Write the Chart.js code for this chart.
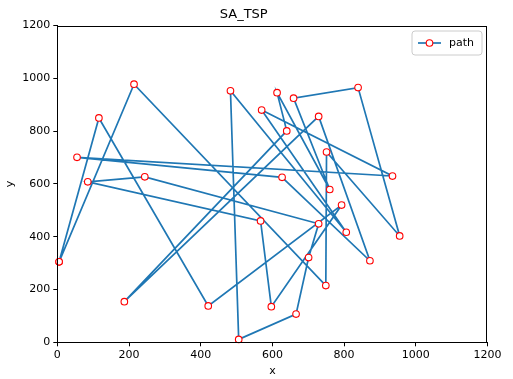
<!DOCTYPE html>
<html><head><meta charset="utf-8">
<script src="https://cdn.jsdelivr.net/npm/chart.js@4.4.0/dist/chart.umd.min.js"></script>
<style>html,body{margin:0;padding:0;background:#fff}#wrap{width:513px;height:379px}</style>
</head><body><div id="wrap"><canvas id="c" width="513" height="379"></canvas></div>
<script>
// Tour order (closed path)
const pathX = [5, 116, 421, 793, 597, 567, 85, 244, 729, 701, 666, 506, 483, 806, 570, 935, 55, 627, 872, 729, 187, 640, 613, 760, 659, 839, 955, 751, 749, 214, 5];
const pathY = [305, 850, 138, 520, 135, 460, 608, 627, 449, 321, 107, 11, 953, 417, 880, 630, 701, 625, 309, 856, 154, 801, 946, 579, 925, 965, 403, 721, 215, 978, 305];
const xTicks = [0, 200, 400, 600, 800, 1000, 1200];
const yTicks = [0, 200, 400, 600, 800, 1000, 1200];
const seriesName = 'path';
const chartTitle = 'SA_TSP';

const FONT = 'DejaVu Sans';
const pts = pathX.map((x, i) => ({x: x, y: pathY[i]}));

const framePlugin = {
  id: 'frame',
  afterDatasetsDraw(chart) {
    const {ctx, chartArea: a} = chart;
    ctx.save();
    ctx.strokeStyle = '#000';
    ctx.lineWidth = 1;
    ctx.strokeRect(Math.round(a.left) + 0.5, Math.round(a.top) + 0.5, Math.round(a.right - a.left) - 1, Math.round(a.bottom - a.top) - 1);
    const bx = 412, by = 31, bw = 70, bh = 24, r = 3;
    ctx.beginPath();
    ctx.moveTo(bx + r, by); ctx.lineTo(bx + bw - r, by); ctx.quadraticCurveTo(bx + bw, by, bx + bw, by + r);
    ctx.lineTo(bx + bw, by + bh - r); ctx.quadraticCurveTo(bx + bw, by + bh, bx + bw - r, by + bh);
    ctx.lineTo(bx + r, by + bh); ctx.quadraticCurveTo(bx, by + bh, bx, by + bh - r);
    ctx.lineTo(bx, by + r); ctx.quadraticCurveTo(bx, by, bx + r, by);
    ctx.closePath();
    ctx.fillStyle = 'rgba(255,255,255,0.8)'; ctx.fill();
    ctx.strokeStyle = '#cccccc'; ctx.lineWidth = 1; ctx.stroke();
    const ly = by + bh / 2;
    ctx.beginPath(); ctx.moveTo(418, ly); ctx.lineTo(441, ly);
    ctx.strokeStyle = '#1f77b4'; ctx.lineWidth = 1.7; ctx.stroke();
    ctx.beginPath(); ctx.arc(429.5, ly, 3.3, 0, Math.PI * 2);
    ctx.fillStyle = '#fff'; ctx.fill(); ctx.strokeStyle = '#ff0000'; ctx.lineWidth = 1.1; ctx.stroke();
    ctx.fillStyle = '#000'; ctx.font = '11px "' + FONT + '"'; ctx.textBaseline = 'middle'; ctx.textAlign = 'left';
    ctx.fillText(seriesName, 449, ly);
    ctx.restore();
  }
};

new Chart(document.getElementById('c'), {
  type: 'scatter',
  data: {
    datasets: [{
      label: seriesName,
      data: pts,
      showLine: true,
      borderColor: '#1f77b4',
      borderWidth: 1.7,
      pointRadius: 3.3,
      pointHoverRadius: 3.3,
      pointBackgroundColor: '#ffffff',
      pointBorderColor: '#ff0000',
      pointBorderWidth: 1.1,
      tension: 0,
      clip: false
    }]
  },
  options: {
    responsive: false,
    animation: false,
    devicePixelRatio: 1,
    layout: {padding: {left: 0, right: 25.5, top: 0, bottom: 0}},
    plugins: {
      legend: {display: false},
      tooltip: {enabled: false},
      title: {display: true, text: chartTitle, color: '#000', font: {family: FONT, size: 13, weight: 'normal'}, padding: {top: 7, bottom: 3}}
    },
    scales: {
      x: {
        type: 'linear', min: 0, max: 1200,
        afterBuildTicks: (s) => { s.ticks = xTicks.map(v => ({value: v})); },
        afterFit: (s) => { s.height = 36.7; },
        ticks: {color: '#000', font: {family: FONT, size: 11}, padding: 2, maxRotation: 0, callback: (v) => String(v)},
        grid: {display: true, drawOnChartArea: false, drawTicks: true, tickLength: 4, color: '#000'},
        border: {display: true, color: '#000'},
        title: {display: true, text: 'x', color: '#000', font: {family: FONT, size: 11}, padding: {top: 0, bottom: 1}}
      },
      y: {
        type: 'linear', min: 0, max: 1200,
        afterBuildTicks: (s) => { s.ticks = yTicks.map(v => ({value: v})); },
        afterFit: (s) => { s.width = 57.3; },
        ticks: {color: '#000', font: {family: FONT, size: 11}, padding: 3, callback: (v) => String(v)},
        grid: {display: true, drawOnChartArea: false, drawTicks: true, tickLength: 4, color: '#000'},
        border: {display: true, color: '#000'},
        title: {display: true, text: 'y', color: '#000', font: {family: FONT, size: 11}, padding: {top: 4, bottom: 0}}
      }
    }
  },
  plugins: [framePlugin]
});
</script></body></html>
